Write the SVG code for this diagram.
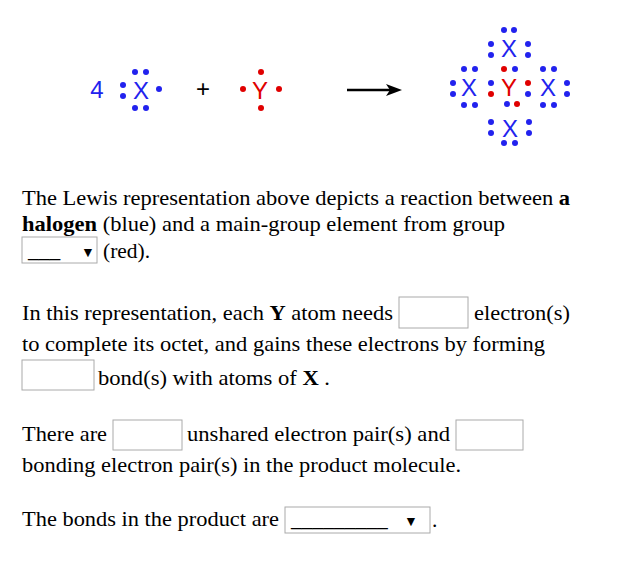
<svg xmlns="http://www.w3.org/2000/svg" width="625" height="566" viewBox="0 0 625 566">
<style>
.b{fill:#2222ee}.r{fill:#e00000}
.lb{font:24px "Liberation Sans",Arial,sans-serif;text-anchor:middle}
.t{font:21.5px "Liberation Serif","Times New Roman",serif;fill:#000}
.box{fill:#fff;stroke:#aaa;stroke-width:1}
</style>
<rect width="625" height="566" fill="#fff"/>
<g id="reactant-x">
<text class="lb b" x="97" y="98" font-weight="bold" font-size="20">4</text>
<text class="lb b" x="141" y="99">X</text>
<g class="b"><circle cx="135" cy="72" r="3"/><circle cx="146" cy="72" r="3"/><circle cx="123" cy="85" r="3"/><circle cx="123" cy="96" r="3"/><circle cx="159" cy="89" r="3"/><circle cx="135" cy="108" r="3"/><circle cx="146" cy="108" r="3"/></g>
</g>
<g id="plus"><text class="lb" x="203" y="97" font-weight="bold">+</text></g>
<g id="reactant-y">
<text class="lb r" x="260" y="99">Y</text>
<g class="r"><circle cx="261" cy="72" r="3"/><circle cx="243" cy="89" r="3"/><circle cx="279" cy="89" r="3"/><circle cx="261" cy="108" r="3"/></g>
</g>
<g id="connectors">
<line x1="347" y1="90" x2="390" y2="90" stroke="#000" stroke-width="2.5"/>
<polygon points="402,90 386,84 390,90 386,96" fill="#000"/>
</g>
<g id="product">
<text class="lb b" x="509" y="57">X</text>
<text class="lb r" x="509" y="96">Y</text>
<text class="lb b" x="469" y="96">X</text>
<text class="lb b" x="548" y="96">X</text>
<text class="lb b" x="510" y="137">X</text>
<g class="b">
<circle cx="504" cy="30" r="3"/><circle cx="514" cy="30" r="3"/><circle cx="491" cy="44" r="3"/><circle cx="491" cy="55" r="3"/><circle cx="528" cy="44" r="3"/><circle cx="528" cy="55" r="3"/>
<circle cx="515" cy="69" r="3"/><circle cx="491" cy="83" r="3"/><circle cx="528" cy="94" r="3"/><circle cx="507" cy="104" r="3"/>
<circle cx="464" cy="69" r="3"/><circle cx="475" cy="69" r="3"/><circle cx="453" cy="83" r="3"/><circle cx="453" cy="94" r="3"/><circle cx="464" cy="105" r="3"/><circle cx="475" cy="105" r="3"/>
<circle cx="543" cy="69" r="3"/><circle cx="554" cy="69" r="3"/><circle cx="567" cy="83" r="3"/><circle cx="567" cy="94" r="3"/><circle cx="543" cy="105" r="3"/><circle cx="554" cy="105" r="3"/>
<circle cx="491" cy="122" r="3"/><circle cx="491" cy="133" r="3"/><circle cx="529" cy="122" r="3"/><circle cx="529" cy="133" r="3"/><circle cx="504" cy="143" r="3"/><circle cx="515" cy="143" r="3"/>
</g>
<g class="r"><circle cx="504" cy="69" r="3"/><circle cx="491" cy="94" r="3"/><circle cx="528" cy="83" r="3"/><circle cx="517" cy="104" r="3"/></g>
</g>
<g id="text">
<text class="t" x="22" y="205" textLength="548" lengthAdjust="spacingAndGlyphs">The Lewis representation above depicts a reaction between <tspan font-weight="bold">a</tspan></text>
<text class="t" x="22" y="231" textLength="483" lengthAdjust="spacingAndGlyphs"><tspan font-weight="bold">halogen</tspan> (blue) and a main-group element from group</text>
<rect class="box" x="22" y="237" width="75" height="26"/>
<text class="t" x="28" y="257">___</text>
<text x="81" y="257" font-family="Liberation Sans,sans-serif" font-size="14">▼</text>
<text class="t" x="103" y="258">(red).</text>
<text class="t" x="22" y="320" textLength="371" lengthAdjust="spacingAndGlyphs">In this representation, each <tspan font-weight="bold">Y</tspan> atom needs</text>
<rect class="box" x="399" y="297" width="69" height="31"/>
<text class="t" x="474" y="320" textLength="96" lengthAdjust="spacingAndGlyphs">electron(s)</text>
<text class="t" x="22" y="351" textLength="523" lengthAdjust="spacingAndGlyphs">to complete its octet, and gains these electrons by forming</text>
<rect class="box" x="22" y="360" width="72" height="30"/>
<text class="t" x="98" y="385" textLength="232" lengthAdjust="spacingAndGlyphs">bond(s) with atoms of <tspan font-weight="bold">X</tspan> .</text>
<text class="t" x="22" y="441" textLength="85" lengthAdjust="spacingAndGlyphs">There are</text>
<rect class="box" x="113" y="420" width="69" height="30"/>
<text class="t" x="187" y="441" textLength="263" lengthAdjust="spacingAndGlyphs">unshared electron pair(s) and</text>
<rect class="box" x="456" y="420" width="67" height="30"/>
<text class="t" x="22" y="472" textLength="439" lengthAdjust="spacingAndGlyphs">bonding electron pair(s) in the product molecule.</text>
<text class="t" x="22" y="526" textLength="257" lengthAdjust="spacingAndGlyphs">The bonds in the product are</text>
<rect class="box" x="285" y="507" width="145" height="26"/>
<text class="t" x="291" y="526">_________</text>
<text x="404" y="526" font-family="Liberation Sans,sans-serif" font-size="14">▼</text>
<text class="t" x="432" y="527">.</text>
</g>
</svg>
